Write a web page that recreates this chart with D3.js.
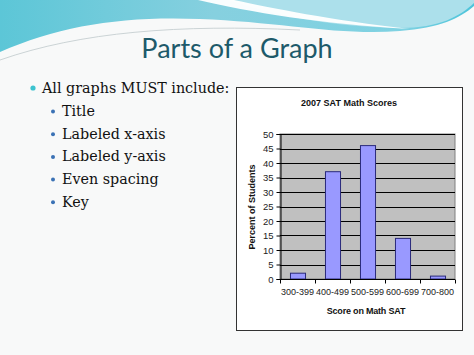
<!DOCTYPE html>
<html>
<head>
<meta charset="utf-8">
<script src="https://cdn.jsdelivr.net/npm/d3@7"></script>
<style>
  html, body { margin: 0; padding: 0; background: #f8f9f9; }
  svg { display: block; }
</style>
</head>
<body>
<div id="slide"></div>
<script>
// chart data
const categories = ["300-399", "400-499", "500-599", "600-699", "700-800"]
const percents = [2, 37, 46, 14, 1]
const yTicks = [0, 5, 10, 15, 20, 25, 30, 35, 40, 45, 50]

const slideTitle = "Parts of a Graph"
const mainBullet = "All graphs MUST include:"
const subBullets = ["Title", "Labeled x-axis", "Labeled y-axis", "Even spacing", "Key"]

const chartTitle = "2007 SAT Math Scores"
const xTitle = "Score on Math SAT"
const yTitle = "Percent of Students"

const W = 474, H = 355

const svg = d3.select("#slide").append("svg")
  .attr("width", W)
  .attr("height", H)

// background
const defs = svg.append("defs")
const grad = defs.append("linearGradient").attr("id", "wave").attr("x1", 0).attr("x2", 1).attr("y1", 0).attr("y2", 0)
grad.append("stop").attr("offset", "0%").attr("stop-color", "#5cc6d7")
grad.append("stop").attr("offset", "45%").attr("stop-color", "#86d0df")
grad.append("stop").attr("offset", "85%").attr("stop-color", "#7fd2e2")
grad.append("stop").attr("offset", "100%").attr("stop-color", "#4cc4da")

svg.append("rect").attr("width", W).attr("height", H).attr("fill", "#f8f9f9")

// top waves
svg.append("path")
  .attr("d", "M0,52 C60,26 120,16 200,19 C280,22 340,36 400,31 C440,28 460,18 474,6 L474,0 L0,0 Z")
  .attr("fill", "url(#wave)")
svg.append("path")
  .attr("d", "M228,0 C270,14 330,27 400,28 C440,28 460,16 474,3 L474,0 Z")
  .attr("fill", "#ace0eb")
svg.append("path")
  .attr("d", "M198,0 C250,12 320,24 410,29 C330,20 272,8 234,0 Z")
  .attr("fill", "#ffffff").attr("opacity", 0.95)
svg.append("path")
  .attr("d", "M0,60 C80,32 180,24 300,30")
  .attr("fill", "none").attr("stroke", "#bfc9cc").attr("stroke-width", 0.8)

// slide title
svg.append("text")
  .attr("x", 237).attr("y", 58)
  .attr("text-anchor", "middle")
  .attr("font-family", "Lato, 'Open Sans', sans-serif")
  .attr("font-size", 27)
  .attr("fill", "#1d5a6a")
  .text(slideTitle)

// bullets
svg.append("circle").attr("cx", 33).attr("cy", 88).attr("r", 2.6).attr("fill", "#3cc3cf")
svg.append("text")
  .attr("x", 42).attr("y", 93)
  .attr("font-family", "'DejaVu Serif', serif")
  .attr("font-size", 14.3)
  .attr("fill", "#111")
  .text(mainBullet)

subBullets.forEach((s, i) => {
  const y = 116 + i * 22.7
  svg.append("circle").attr("cx", 53).attr("cy", y - 4.5).attr("r", 2).attr("fill", "#3b72b5")
  svg.append("text")
    .attr("x", 62).attr("y", y)
    .attr("font-family", "'DejaVu Serif', serif")
    .attr("font-size", 14.3)
    .attr("fill", "#111")
    .text(s)
})

// chart box
svg.append("rect")
  .attr("x", 236.5).attr("y", 87.5).attr("width", 226).attr("height", 243)
  .attr("fill", "#fff").attr("stroke", "#333").attr("stroke-width", 1)

const plot = { left: 280, right: 455, top: 134, bottom: 279 }

const x = d3.scaleBand()
  .domain(categories)
  .range([plot.left, plot.right])
  .paddingInner(0.57)
  .paddingOuter(0.285)

const xOuter = d3.scaleBand()
  .domain(categories)
  .range([plot.left, plot.right])

const y = d3.scaleLinear()
  .domain([0, 50])
  .range([plot.bottom, plot.top])

const g = svg.append("g")

g.append("rect")
  .attr("x", plot.left).attr("y", plot.top)
  .attr("width", plot.right - plot.left).attr("height", plot.bottom - plot.top)
  .attr("fill", "#c0c0c0").attr("stroke", "#808080")

// gridlines
g.selectAll(".grid").data(yTicks.filter(d => d > 0)).join("line")
  .attr("class", "grid")
  .attr("x1", plot.left).attr("x2", plot.right)
  .attr("y1", d => Math.round(y(d)) + 0.5).attr("y2", d => Math.round(y(d)) + 0.5)
  .attr("stroke", "#000").attr("stroke-width", 1)

// bars
g.selectAll(".bar").data(percents).join("rect")
  .attr("class", "bar")
  .attr("x", (d, i) => x(categories[i]) + 0.5)
  .attr("y", d => y(d))
  .attr("width", x.bandwidth())
  .attr("height", d => plot.bottom - y(d))
  .attr("fill", "#9999ff")
  .attr("stroke", "#2a2a7a").attr("stroke-width", 1)

// y axis
const yAxis = g.append("g")
  .attr("transform", `translate(${plot.left + 0.5},0)`)
  .call(d3.axisLeft(y).tickValues(yTicks).tickSize(4).tickPadding(3))
yAxis.selectAll("text")
  .attr("font-family", "'Liberation Sans', Arial, sans-serif")
  .attr("font-size", 9.5).attr("fill", "#222")

// x axis
const xAxis = g.append("g")
  .attr("transform", `translate(0,${plot.bottom + 0.5})`)
  .call(d3.axisBottom(xOuter).tickSize(0).tickPadding(9))
xAxis.select(".domain").remove()
xAxis.append("line")
  .attr("x1", plot.left).attr("x2", plot.right)
  .attr("stroke", "#000")
xAxis.selectAll(".bnd").data(d3.range(categories.length + 1)).join("line")
  .attr("class", "bnd")
  .attr("x1", i => plot.left + i * xOuter.step() + 0.5)
  .attr("x2", i => plot.left + i * xOuter.step() + 0.5)
  .attr("y1", 0).attr("y2", 4)
  .attr("stroke", "#000")
xAxis.selectAll("text")
  .attr("font-family", "'Liberation Sans', Arial, sans-serif")
  .attr("font-size", 9).attr("fill", "#222")

// chart titles
svg.append("text")
  .attr("x", 349).attr("y", 106)
  .attr("text-anchor", "middle")
  .attr("font-family", "'Liberation Sans', Arial, sans-serif")
  .attr("font-weight", "bold").attr("font-size", 9)
  .attr("fill", "#111")
  .text(chartTitle)

svg.append("text")
  .attr("x", 366).attr("y", 314)
  .attr("text-anchor", "middle")
  .attr("font-family", "'Liberation Sans', Arial, sans-serif")
  .attr("font-weight", "bold").attr("font-size", 9)
  .attr("letter-spacing", -0.2)
  .attr("fill", "#111")
  .text(xTitle)

svg.append("text")
  .attr("transform", "translate(255,207) rotate(-90)")
  .attr("text-anchor", "middle")
  .attr("font-family", "'Liberation Sans', Arial, sans-serif")
  .attr("font-weight", "bold").attr("font-size", 9)
  .attr("fill", "#111")
  .text(yTitle)
</script>
</body>
</html>
